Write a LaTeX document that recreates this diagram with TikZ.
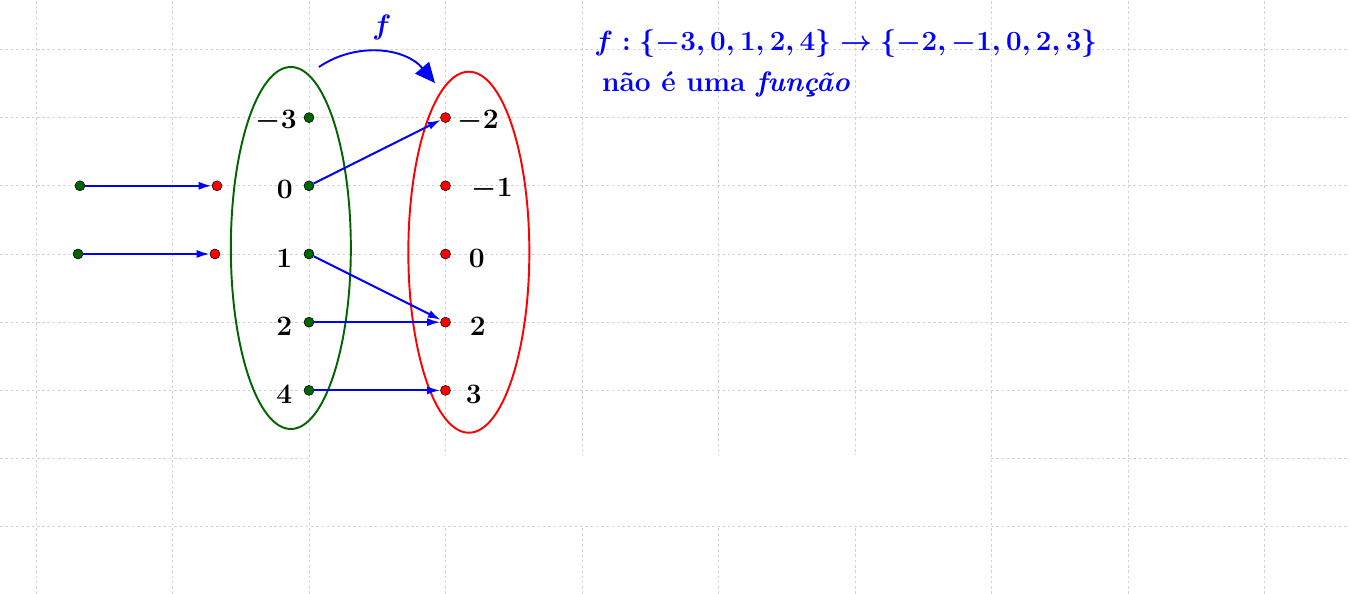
\RequirePackage{fix-cm}
\documentclass[tikz,border=0pt]{standalone}
\usetikzlibrary{arrows.meta}

\definecolor{setgreen}{RGB}{0,100,0}

\begin{document}
\begin{tikzpicture}[x=2.73cm, y=1.364cm,
    gridline/.style={gray!35, line width=0.4pt, dash pattern=on 1.5pt off 1.5pt},
    elem/.style={circle, draw=black, line width=0.3pt, inner sep=0pt, minimum size=0.2cm},
    maparrow/.style={-{Latex[length=0.26cm, width=0.16cm]}, blue, line width=1.15pt},
    lbl/.style={inner sep=0pt, font=\fontsize{16}{19}\selectfont\boldmath}]
    \useasboundingbox (-2.2637, -4.9853) rectangle (7.6264, 3.7243);

    % grid
    \foreach \x in {-2, ..., 7} {
        \draw[gridline] (\x, -4.9853) -- (\x, 3.7243);
    }
    \foreach \y in {-4, ..., 3} {
        \draw[gridline] (-2.2637, \y) -- (7.6264, \y);
    }
    \fill[white] (0.01, -2.95) rectangle (4.99, -3.97);

    % the two sets
    \draw[setgreen, line width=1.1pt] (-0.133, 0.088) ellipse [x radius=1.2cm, y radius=3.62cm];
    \draw[red, line width=1.1pt] (1.171, 0.026) ellipse [x radius=1.21cm, y radius=3.61cm];

    \foreach \v/\y/\d [count=\i] in {-3/2/0.24, 0/1/0.32, 1/0/0.33, 2/-1/0.33, 4/-2/0.33} {
        \node[elem, fill=setgreen] (a\i) at (0, \y) {};
        \node[lbl, anchor=east] (la\i) at ([xshift=-\d cm, yshift=-0.08cm]a\i.center) {$\v$};
    }
    \foreach \v/\y/\d [count=\i] in {-2/2/0.24, -1/1/0.52, 0/0/0.46, 2/-1/0.48, 3/-2/0.40} {
        \node[elem, fill=red] (b\i) at (1, \y) {};
        \node[lbl, anchor=west] (lb\i) at ([xshift=\d cm, yshift=-0.08cm]b\i.center) {$\v$};
    }

    % loose points on the left
    \node[elem, fill=setgreen] (p1) at (-1.678, 1) {};
    \node[elem, fill=red] (q1) at (-0.674, 1) {};
    \node[elem, fill=setgreen] (p2) at (-1.692, 0) {};
    \node[elem, fill=red] (q2) at (-0.689, 0) {};
    \draw[maparrow] (p1) -- (q1);
    \draw[maparrow] (p2) -- (q2);

    \draw[maparrow] (a2) -- (b1);
    \draw[maparrow] (a3) -- (b4);
    \draw[maparrow] (a4) -- (b4);
    \draw[maparrow] (a5) -- (b5);

    % f
    \coordinate (fstart) at (0.073, 2.742);
    \coordinate (fend) at (0.923, 2.507);
    \draw[-{Triangle[length=0.4cm, width=0.36cm]}, blue, line width=1.1pt] (fstart) to[bend left=42] (fend);
    \node[lbl, text=blue] (flabel) at (0.535, 3.328) {$f$};

    \node[lbl, anchor=base west, text=blue, font=\fontsize{15.8}{19}\selectfont\boldmath] (title) at (2.088, 2.991)
        {$f:\{-3,0,1,2,4\}\to\{-2,-1,0,2,3\}$};
    \node[lbl, anchor=base west, text=blue, font=\fontsize{16}{19}\selectfont\bfseries] (note) at (2.144, 2.38)
        {não é uma \textit{função}};
\end{tikzpicture}
\end{document}
